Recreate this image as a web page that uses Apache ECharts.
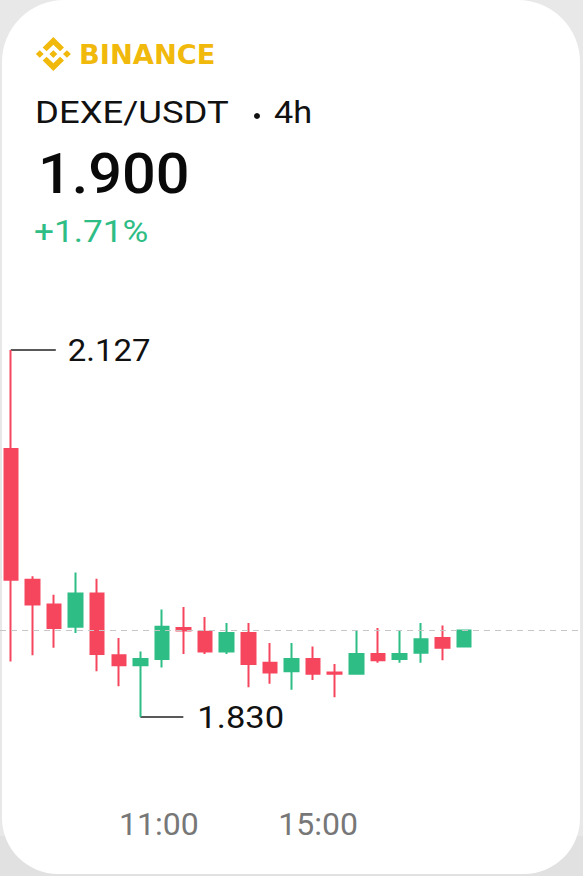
<!DOCTYPE html>
<html><head><meta charset="utf-8">
<script src="https://cdn.jsdelivr.net/npm/echarts@6/dist/echarts.min.js"></script>
<style>
html,body{margin:0;padding:0;width:583px;height:876px;overflow:hidden;background:#e8e8e8;}
#bg2{position:absolute;left:0;top:836px;width:583px;height:40px;background:#e1e1e1;}
#card{position:absolute;left:2px;top:0;width:578px;height:874px;background:#fff;border-radius:62px 62px 56px 56px;}
#chart{position:absolute;left:0;top:0;width:583px;height:876px;}
</style></head><body>
<div id="bg2"></div><div id="card"></div><div id="chart"></div>
<script>
// ---- texts ----
const exchangeName = 'BINANCE';
const pairLabel = 'DEXE/USDT';
const intervalLabel = '4h';
const lastPriceLabel = '1.900';
const changeLabel = '+1.71%';

// ---- data (4h candles) ----
const categories = ['c0','c1','c2','c3','c4','c5','c6','c7','c8','c9','c10','c11','c12','c13','c14','c15','c16','c17','c18','c19','c20','c21','e0','e1','e2','e3','e4'];
const tickLabels = {7: '11:00', 14: '15:00'};
const opens  = [2.047,1.941,1.921,1.903,1.930,1.880,1.872,1.877,1.902,1.899,1.883,1.898,1.874,1.867,1.877,1.866,1.865,1.881,1.877,1.882,1.894,1.887];
const closes = [1.941,1.921,1.902,1.930,1.881,1.872,1.877,1.903,1.900,1.883,1.898,1.873,1.866,1.877,1.865,1.865,1.881,1.876,1.881,1.893,1.886,1.900];
const lows   = [1.875,1.880,1.886,1.898,1.867,1.855,1.830,1.870,1.881,1.881,1.881,1.854,1.857,1.852,1.860,1.846,1.865,1.874,1.874,1.874,1.876,1.887];
const highs  = [2.127,1.944,1.929,1.947,1.942,1.894,1.883,1.917,1.919,1.911,1.906,1.906,1.890,1.890,1.887,1.873,1.900,1.902,1.900,1.906,1.904,1.900];
const lastPrice = 1.900;

const UP = '#2EBD85', DOWN = '#F6465D';
const candleData = opens.map((o, i) => [o, closes[i], lows[i], highs[i]]);

const chart = echarts.init(document.getElementById('chart'), null, {renderer: 'svg'});

// Binance logo outline (icon geometry, 126.6 unit box)
const logoPolys = [
  [[38.73,53.2],[63.3,28.64],[87.88,53.22],[102.18,38.93],[63.3,0],[24.43,38.87]],
  [[-0.6,63.3],[13.7,49],[28,63.3],[13.7,77.6]],
  [[38.73,73.41],[63.3,98],[87.88,73.42],[102.18,87.7],[63.3,126.61],[24.43,87.74]],
  [[98.6,63.3],[112.9,49],[127.2,63.3],[112.9,77.6]],
  [[63.3,48.8],[77.8,63.3],[63.3,77.8],[48.8,63.3]]
];

function txt(text, x, y, font, fill, sx) {
  return {type: 'text', silent: true, x: x, y: y, scaleX: sx || 1,
    style: {text: text, x: 0, y: 0, font: font, fill: fill,
      align: 'left', verticalAlign: 'middle', textAlign: 'left', textVerticalAlign: 'middle'}};
}

const baseGraphic = [
  {type: 'group', x: 36, y: 37, scaleX: 35 / 127.8, scaleY: 34 / 126.6, silent: true,
    children: logoPolys.map(p => ({type: 'polygon', shape: {points: p}, style: {fill: '#F0B90B'}}))},
  txt(exchangeName, 79, 55, 'bold 26px "DejaVu Sans"', '#F0B90B', 1.05),
  txt(pairLabel, 35, 112, '32px Roboto', '#111111', 1.14),
  {type: 'circle', silent: true, shape: {cx: 257, cy: 116, r: 3}, style: {fill: '#111111'}},
  txt(intervalLabel, 274, 112, '32px Roboto', '#111111', 1.07),
  txt(lastPriceLabel, 38, 174, '500 55px Roboto', '#0a0a0a', 1.08),
  txt(changeLabel, 34, 231, '32px Roboto', UP, 1.1)
];

const option = {
  animation: false,
  backgroundColor: 'transparent',
  grid: {left: -1, right: -8, top: 321.6, height: 432.5},
  xAxis: {
    type: 'category', data: categories, boundaryGap: true,
    axisLine: {show: false}, axisTick: {show: false}, splitLine: {show: false},
    axisLabel: {interval: 0, margin: 54, color: '#777777', fontSize: 32, fontFamily: 'Roboto',
      formatter: (v, i) => tickLabels[i] ? (i === 7 ? '{a|' + tickLabels[i] + '}' : '{b|' + tickLabels[i] + '}') : '',
      rich: {
        a: {color: '#777777', fontSize: 32, fontFamily: 'Roboto', padding: [0, 6, 0, 0]},
        b: {color: '#777777', fontSize: 32, fontFamily: 'Roboto', padding: [0, 0, 0, 10]}
      }}
  },
  yAxis: {type: 'value', min: 1.80, max: 2.15, show: false, splitLine: {show: false}},
  series: [{
    type: 'candlestick',
    data: candleData,
    barWidth: 14,
    itemStyle: {color: UP, color0: DOWN, borderColor: UP, borderColor0: DOWN, borderWidth: 2},
    markLine: {
      silent: true, symbol: ['none', 'none'], label: {show: false},
      lineStyle: {type: [6, 5], color: '#c6c6c6', width: 1},
      data: [{yAxis: lastPrice}]
    }
  }],
  graphic: baseGraphic
};
chart.setOption(option);

// extreme labels placed through the chart's own scales
let iMax = 0, iMin = 0;
highs.forEach((h, i) => { if (h > highs[iMax]) iMax = i; });
lows.forEach((l, i) => { if (l < lows[iMin]) iMin = i; });
const pMax = chart.convertToPixel({seriesIndex: 0}, [iMax, highs[iMax]]);
const pMin = chart.convertToPixel({seriesIndex: 0}, [iMin, lows[iMin]]);
const extra = baseGraphic.slice();
extra.push({type: 'line', silent: true, shape: {x1: pMax[0], y1: pMax[1], x2: pMax[0] + 45, y2: pMax[1]}, style: {stroke: '#222', lineWidth: 1.5}});
extra.push(txt(highs[iMax].toFixed(3), pMax[0] + 57, pMax[1], '32px Roboto', '#111111', 1.03));
extra.push({type: 'line', silent: true, shape: {x1: pMin[0], y1: pMin[1], x2: pMin[0] + 43, y2: pMin[1]}, style: {stroke: '#222', lineWidth: 1.5}});
extra.push(txt(lows[iMin].toFixed(3), pMin[0] + 57, pMin[1], '32px Roboto', '#111111', 1.08));
chart.setOption({graphic: extra});
</script>
</body></html>
